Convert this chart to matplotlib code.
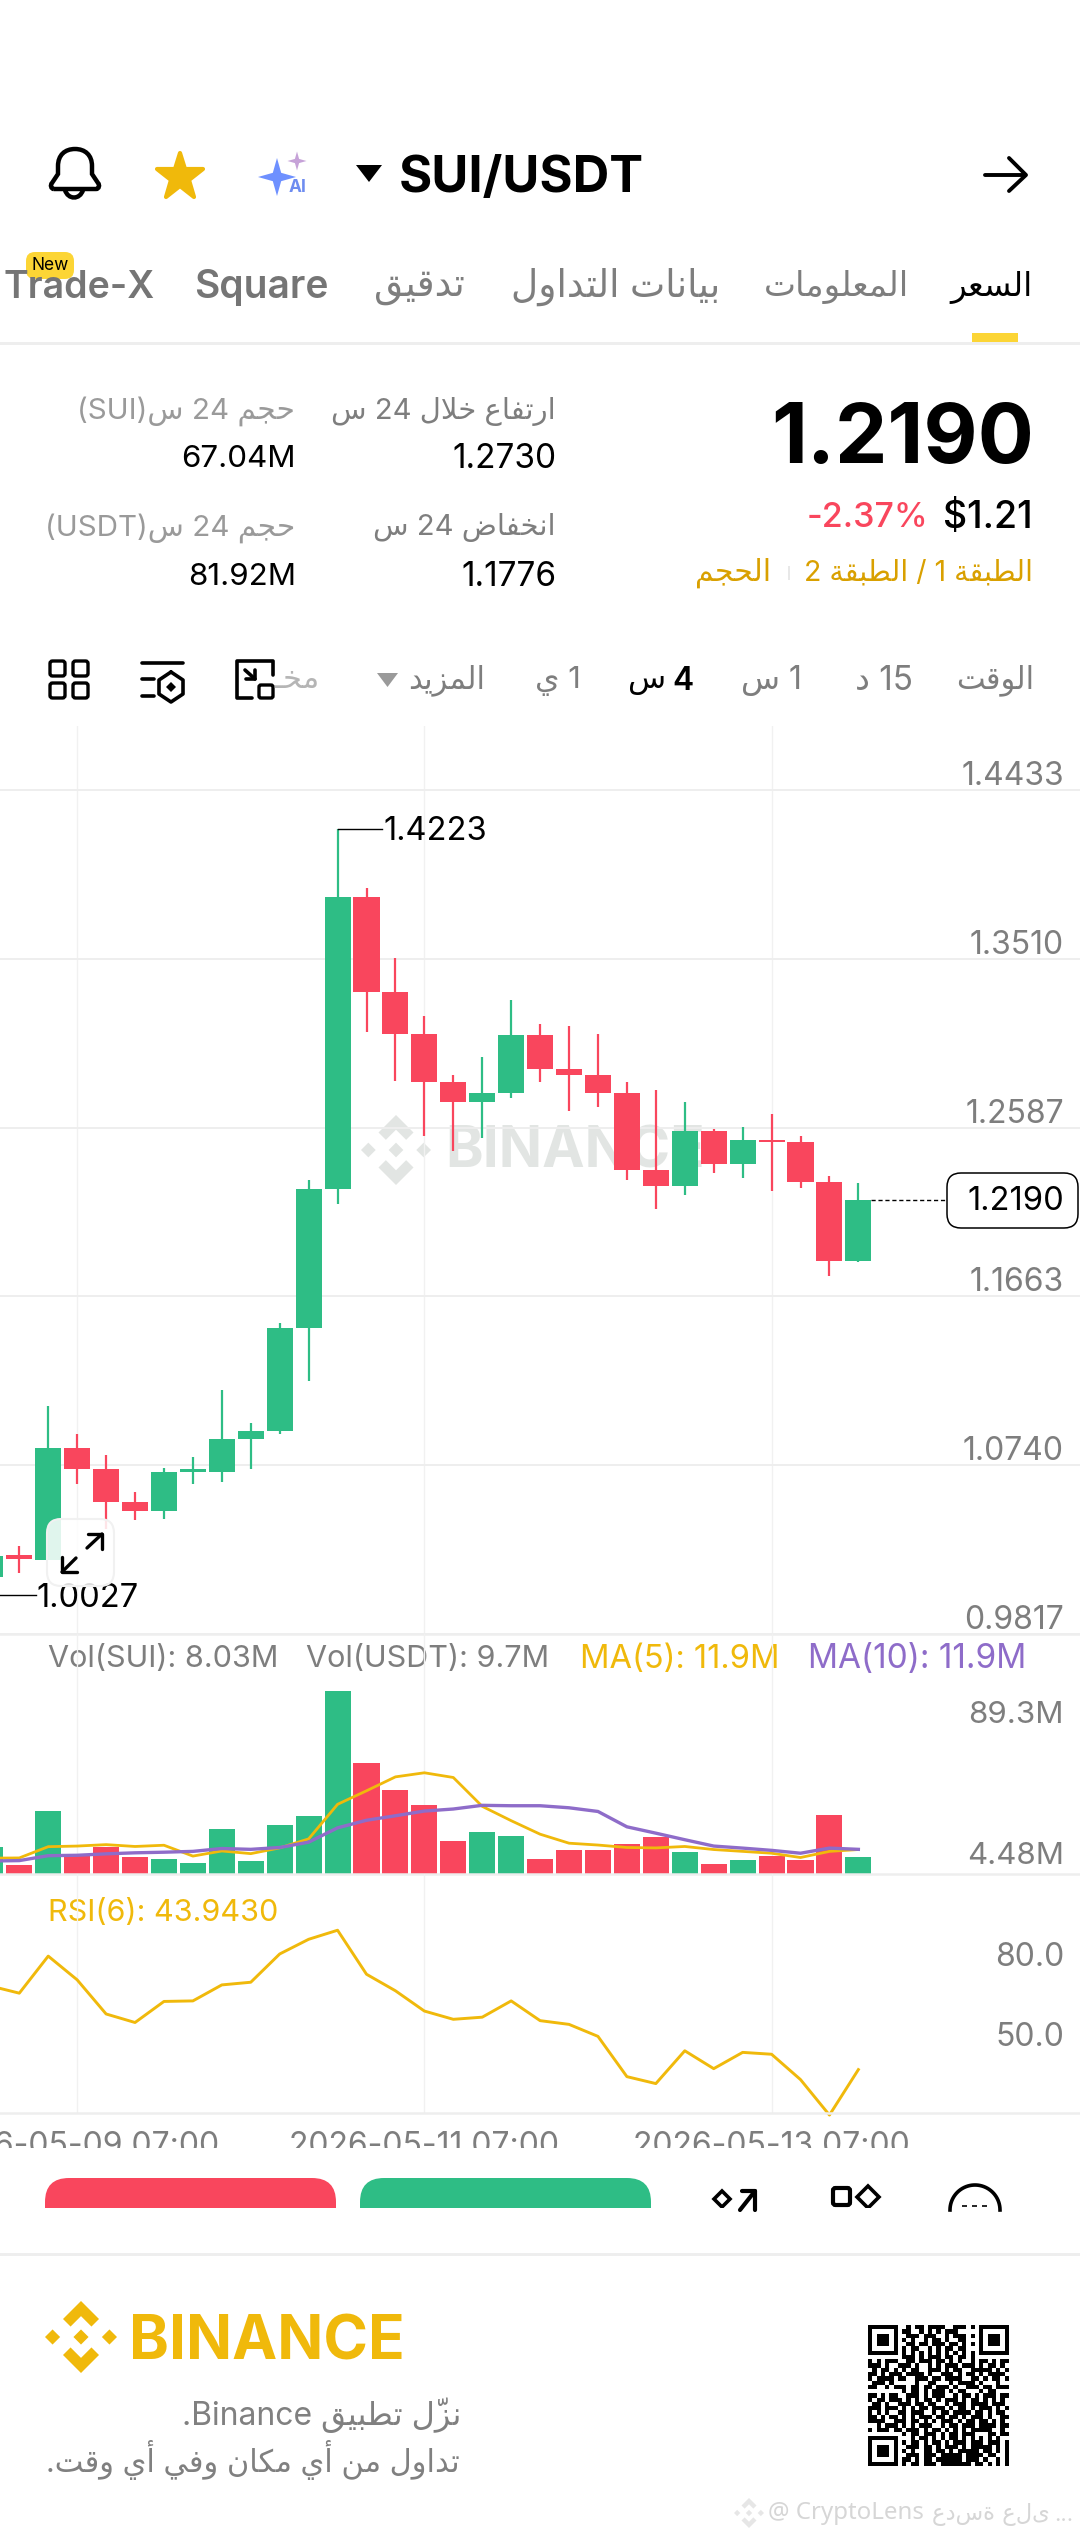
"""SUI/USDT 4h candles, volume and RSI in the Binance app share card."""

import re

import matplotlib as mpl

mpl.use("Agg")
import matplotlib.pyplot as plt
import numpy as np
from matplotlib.patches import FancyBboxPatch, PathPatch, Polygon, Rectangle
from matplotlib.path import Path

W, H = 1080, 2538
FONT = ["Inter", "DejaVu Sans"]
plt.rcParams["font.family"] = FONT

GREEN = "#2EBD85"
RED = "#F9465D"
GOLD = "#F0B90B"
PURPLE = "#8E6CC9"
GRID = "#F1F1F1"

# one row per 4h candle, the first one is cut by the left edge
OPEN = [1.0125, 1.0247, 1.0221, 1.0832, 1.0719, 1.0536, 1.0491, 1.0700, 1.0703, 1.0883, 1.0925,
        1.1493, 1.2251, 1.3847, 1.3327, 1.3102, 1.2839, 1.2730, 1.2775, 1.3096, 1.2906, 1.2877,
        1.2775, 1.2354, 1.2270, 1.2566, 1.2386, 1.2521, 1.2511, 1.2290, 1.1859]
CLOSE = [1.0244, 1.0228, 1.0832, 1.0719, 1.0536, 1.0491, 1.0700, 1.0716, 1.0883, 1.0925, 1.1493,
         1.2251, 1.3847, 1.3327, 1.3102, 1.2839, 1.2730, 1.2775, 1.3096, 1.2909, 1.2877, 1.2775,
         1.2354, 1.2270, 1.2566, 1.2386, 1.2521, 1.2508, 1.2290, 1.1859, 1.2190]
HIGH = [1.0250, 1.0298, 1.1063, 1.0909, 1.0793, 1.0594, 1.0726, 1.0783, 1.1149, 1.0973, 1.1519,
        1.2299, 1.4223, 1.3899, 1.3516, 1.3198, 1.2874, 1.2974, 1.3285, 1.3157, 1.3141, 1.3102,
        1.2839, 1.2794, 1.2730, 1.2579, 1.2591, 1.2659, 1.2543, 1.2325, 1.2283]
LOW = [1.0027, 1.0147, 1.0221, 1.0639, 1.0388, 1.0437, 1.0446, 1.0636, 1.0645, 1.0716, 1.0912,
       1.1201, 1.2168, 1.3112, 1.2845, 1.2540, 1.2460, 1.2530, 1.2752, 1.2839, 1.2678, 1.2701,
       1.2299, 1.2139, 1.2219, 1.2338, 1.2312, 1.2241, 1.2257, 1.1776, 1.1850]
VOLUME = [12.9, 4.5, 30.5, 8.9, 13.1, 8.4, 7.2, 5.1, 22.1, 6.3, 23.9, 28.3, 89.3, 54.2, 41.0, 33.8,
          16.2, 20.4, 18.5, 7.3, 11.9, 11.5, 14.6, 17.8, 10.6, 4.88, 6.8, 8.7, 7.0, 28.8, 8.03]
MA5 = [7.7, 7.8, 13.3, 13.6, 14.3, 13.4, 14.0, 8.7, 11.2, 9.9, 12.7, 17.1, 34.0, 40.6, 47.4, 49.4,
       47.1, 33.0, 26.0, 19.4, 15.0, 14.1, 12.9, 12.7, 13.4, 11.9, 11.0, 10.1, 8.0, 11.0, 11.9]
MA10 = [6.3, 6.5, 8.9, 9.1, 9.8, 10.3, 10.6, 11.0, 12.4, 12.0, 12.9, 15.5, 22.5, 26.2, 28.4, 30.7,
        31.7, 33.5, 33.3, 33.3, 32.3, 30.5, 23.0, 19.9, 16.7, 13.6, 12.6, 11.5, 10.1, 12.6, 12.0]
RSI = [75.3, 72.6, 86.5, 77.6, 64.8, 61.6, 69.5, 69.7, 75.7, 76.7, 87.3, 92.8, 96.2, 79.7, 73.5, 65.9,
       62.8, 63.6, 69.7, 62.3, 60.9, 56.4, 41.3, 38.7, 51.0, 44.3, 50.4, 49.7, 40.2, 26.9, 43.943]

PRICE_TICKS = [1.4433, 1.3510, 1.2587, 1.1663, 1.0740, 0.9817]
DATE_TICKS = [3, 15, 27]
DATE_LABELS = ["2026-05-09 07:00", "2026-05-11 07:00", "2026-05-13 07:00"]
LAST_PRICE = 1.2190

QR_ROWS = [
    "#######..#.##.####..###.#.#######",
    "#.....#.##..#.#.#.###.....#.....#",
    "#.###.#..###.###..#.###.#.#.###.#",
    "#.###.#.#.#..#.##.#..##...#.###.#",
    "#.###.#..##.##.###.##.#.#.#.###.#",
    "#.....#.#.##..#.#.##.##...#.....#",
    "#######.#.#.#.#.#.#.#.#.#.#######",
    "........###.#.###.##.##.#........",
    "#.#.###..##.###.##.#.#..#.##.#.##",
    "###.#..###.#..#.#.###.###.#.##.#.",
    ".#.##.#.#.##..###.#.##..#####.#.#",
    "##.#.###.####.#..###.#.##.#.####.",
    "#.####.##..###.##.####..##.#.##.#",
    ".###.#.....#..##...#.####.#...#..",
    "##..#.###.##.##.###.#..###.##.###",
    "........#.##.#.###.#.##...#.##...",
    "##.#.##..###.#.###..#.##.#.###.##",
    "#.##.###.#.#.##.#.###.#.##.#.#.#.",
    ".##.#..###.##.##..#.###.####.###.",
    "###.###.#.#.##.###.#.##.#.###.#.#",
    "#.#.#..##.###..#.##.####.##.#.##.",
    "##.#.##.#.#.###.##.##.#.###.#..##",
    "####..###.##.#.#.###.#.##.##.#.#.",
    "..#.###.#.#.###..#.##.###.####.##",
    "#.###.##.###.#.##.#.#.#.#####..#.",
    "........#.##.###.#.##.###...##.##",
    "#######...#.##.#.#.##.#.#.#.#.#..",
    "#.....#.#.##.#.##.#.###.###.###.#",
    "#.###.#..###.##.#.###.#.#####.#.#",
    "#.###.#.#.#..##.##.#.#####.##.#.#",
    "#.###.#..###.###.#####.####.##..#",
    "#.....#.##.#.##.######.###.#..#.#",
    "#######.#.##.###.#######.##.#.#.#",
]

DUAL = {"ب": 0xFE8F, "ت": 0xFE95, "ج": 0xFE9D, "ح": 0xFEA1, "خ": 0xFEA5, "س": 0xFEB1, "ض": 0xFEBD,
        "ط": 0xFEC1, "ع": 0xFEC9, "ف": 0xFED1, "ق": 0xFED5, "ك": 0xFED9, "ل": 0xFEDD, "م": 0xFEE1,
        "ن": 0xFEE5, "ي": 0xFEF1}
RIGHT = {"ا": 0xFE8D, "أ": 0xFE83, "ة": 0xFE93, "د": 0xFEA9, "ر": 0xFEAD, "ز": 0xFEAF, "و": 0xFEED,
         "\uFEFB": 0xFEFB}
SHADDA = "\u0651"
KASHIDA = "\u0640"


def ar(text):
    # matplotlib has no shaping or bidi, so turn the string into visual order
    text = text.replace("لا", "\uFEFB")
    out = []
    for i, c in enumerate(text):
        if c not in DUAL and c not in RIGHT:
            out.append(c)
            continue
        j = i - 1
        while j >= 0 and text[j] == SHADDA:
            j -= 1
        k = i + 1
        while k < len(text) and text[k] == SHADDA:
            k += 1
        joins_prev = j >= 0 and text[j] in DUAL
        joins_next = k < len(text) and (text[k] in DUAL or text[k] in RIGHT or text[k] == KASHIDA)
        if c in DUAL:
            form = {(0, 0): 0, (1, 0): 1, (0, 1): 2, (1, 1): 3}[(int(joins_prev), int(joins_next))]
            out.append(chr(DUAL[c] + form))
        else:
            out.append(chr(RIGHT[c] + int(joins_prev)))
    tokens = re.findall(r"[A-Za-z0-9]+|." + SHADDA + "?", "".join(out))
    swap = {"(": ")", ")": "("}
    # the mark goes in front of its letter, it has no advance of its own
    tokens = [t[::-1] if t.endswith(SHADDA) else t for t in tokens]
    return "".join(swap.get(t, t) for t in reversed(tokens))


def px_axes(top, bottom, zorder=1):
    ax = fig.add_axes([0, 1 - bottom / H, 1, (bottom - top) / H], zorder=zorder)
    ax.patch.set_alpha(0)
    ax.set_xlim(0.333, 37.66)
    ax.set_xticks(DATE_TICKS)
    ax.grid(axis="x", color=GRID, linewidth=1.0)
    ax.set_axisbelow(True)
    ax.tick_params(length=0, labelleft=False, labelbottom=False)
    for s in ax.spines.values():
        s.set_visible(False)
    ax.spines["bottom"].set_visible(True)
    ax.spines["bottom"].set_color("#EEEEEE")
    ax.spines["bottom"].set_linewidth(1.8)
    return ax


def tx(ax, x, y, s, size, color="black", ha="right", weight="normal", **kw):
    return ax.text(x, y, s, fontsize=size, color=color, ha=ha, va="center", fontweight=weight,
                   parse_math=False, **kw)


def stroke(ax, pts, lw=2.6, color="black", closed=False, **kw):
    xs, ys = zip(*(list(pts) + [pts[0]] if closed else pts))
    ax.plot(xs, ys, color=color, lw=lw, solid_capstyle="round", solid_joinstyle="round", **kw)


def rbox(ax, x0, y0, x1, y1, rad, fc="none", ec="black", lw=2.4, **kw):
    ax.add_patch(FancyBboxPatch((x0, y0), x1 - x0, y1 - y0, boxstyle=f"round,pad=0,rounding_size={rad}",
                                fc=fc, ec=ec, lw=lw, **kw))


def bnb_logo(ax, cx, cy, r, color):
    top = [(0, 1), (.5, .5), (.29, .29), (0, .58), (-.29, .29), (-.5, .5)]
    shapes = [top, [(a, -b) for a, b in top]]
    for ox in (-.79, 0, .79):
        shapes.append([(ox, .21), (ox + .21, 0), (ox, -.21), (ox - .21, 0)])
    for shape in shapes:
        ax.add_patch(Polygon([(cx + a * r, cy - b * r) for a, b in shape], fc=color, ec="none"))


def sparkle(ax, cx, cy, h, color):
    pts = [(0, -h), (.22 * h, -.22 * h), (h, 0), (.22 * h, .22 * h), (0, h), (-.22 * h, .22 * h), (-h, 0),
           (-.22 * h, -.22 * h)]
    ax.add_patch(Polygon([(cx + a, cy + b) for a, b in pts], fc=color, ec="none"))


fig = plt.figure(figsize=(W / 100, H / 100), dpi=100, facecolor="white")

# page chrome in pixel coordinates, y pointing down
ui = fig.add_axes([0, 0, 1, 1], zorder=0)
ui.axis("off")

bell = Path([(54, 189), (96, 189), (99, 189), (100, 185), (98, 183), (92, 174), (92, 166), (92, 155), (85, 149),
             (75, 149), (65, 149), (58, 155), (58, 166), (58, 174), (52, 183), (50, 185), (51, 189), (54, 189)],
            [1, 2, 4, 4, 4, 2, 2, 4, 4, 4, 4, 4, 4, 2, 2, 4, 4, 4])
ui.add_patch(PathPatch(bell, fc="none", ec="black", lw=3.2))
ui.add_patch(PathPatch(Path([(65, 190), (68, 200), (80, 200), (83, 190)], [1, 4, 4, 4]), fc="none", ec="black", lw=3.2))
ui.plot(180, 176.5, marker=mpl.markers.MarkerStyle("*", joinstyle="round"), ms=35, color=GOLD, mew=3)
sparkle(ui, 277, 177, 19, "#6E90FF")
sparkle(ui, 297, 161, 9.5, "#C6A2D8")
tx(ui, 298, 188, "AI", 12.5, "#6E8CF0", ha="center", weight="bold")
ui.add_patch(Polygon([(356, 165), (382, 165), (369, 182)], fc="black", ec="none"))
tx(ui, 399, 178, "SUI/USDT", 36.5, ha="left", weight="bold")
stroke(ui, [(985, 175), (1025, 175)], lw=2.8)
stroke(ui, [(1009, 158), (1026, 175), (1009, 191)], lw=2.8)

tx(ui, 1033, 287, ar("السعر"), 23.5)
tx(ui, 909, 287, ar("المعلومات"), 24.5, "#7E7E7E")
tx(ui, 720, 287, ar("بيانات التداول"), 27, "#7E7E7E")
tx(ui, 465, 287, ar("تدقيق"), 27, "#7E7E7E")
tx(ui, 328, 288, "Square", 28, "#757575", weight="semibold")
tx(ui, 155, 288, "Trade-X", 27, "#757575", weight="semibold")
rbox(ui, 26, 252, 74, 279, 9, fc="#FCD535", ec="none", lw=0)
tx(ui, 50, 266, "New", 12.5, ha="center")
ui.add_patch(Rectangle((972, 333), 46, 9, fc="#FCD535", ec="none"))
ui.add_patch(Rectangle((0, 342), W, 2.5, fc="#EEEEEE", ec="none"))

tx(ui, 1034, 441, "1.2190", 60, weight="bold")
tx(ui, 1033, 518, "$1.21", 27, weight="medium")
tx(ui, 928, 518, "-2.37%", 24.5, RED, weight="medium")
tx(ui, 1033, 573, ar("الطبقة 1 / الطبقة 2"), 20.6, "#D9A000")
tx(ui, 771, 573, ar("الحجم"), 21.5, "#D9A000")
ui.add_patch(Rectangle((788, 566), 1.5, 14, fc="#E8E8E8", ec="none"))

tx(ui, 556, 411, ar("ارتفاع خلال 24 س"), 21, "#7E7E7E")
tx(ui, 557, 459, "1.2730", 24)
tx(ui, 556, 528, ar("انخفاض 24 س"), 21, "#7E7E7E")
tx(ui, 557, 577, "1.1776", 24)
tx(ui, 295, 411, ar("حجم 24 س(SUI)"), 21.3, "#9A9A9A")
tx(ui, 296, 459, "67.04M", 22.6)
tx(ui, 295, 528, ar("حجم 24 س(USDT)"), 21.3, "#9A9A9A")
tx(ui, 296, 577, "81.92M", 22.6)

tx(ui, 1034, 680, ar("الوقت"), 22, "#7E7E7E")
tx(ui, 913, 681, ar("15 د"), 24, "#7E7E7E")
tx(ui, 802, 681, ar("1 س"), 23, "#7E7E7E")
# the selected interval, only the digit comes out heavy in the app
tx(ui, 693, 681, "4", 23, weight="semibold")
tx(ui, 666, 681, ar("س"), 22.5)
tx(ui, 581, 681, ar("1 ي"), 22.5, "#7E7E7E")
tx(ui, 485, 680, ar("المزيد"), 22, "#7E7E7E")
ui.add_patch(Polygon([(377, 673), (398, 673), (387.5, 687)], fc="#9A9A9A", ec="none"))
tx(ui, 319, 680, ar("مخ" + KASHIDA), 22, "#B5B5B5")

for x0 in (50, 73):
    for y0 in (661, 683):
        rbox(ui, x0, y0, x0 + 15, y0 + 15, 2.5)
stroke(ui, [(142, 663), (183, 663)])
stroke(ui, [(142, 679), (154, 679)])
stroke(ui, [(142, 696), (154, 696)])
stroke(ui, [(171, 672), (183, 680), (183, 694), (171, 702), (159, 694), (159, 680)], closed=True)
ui.add_patch(Polygon([(171, 682), (176, 687), (171, 692), (166, 687)], fc="black", ec="none"))
stroke(ui, [(252, 698), (237, 698), (237, 661), (273, 661), (273, 675)])
rbox(ui, 259, 685, 273, 698, 2)
stroke(ui, [(245, 670), (255, 679)])
stroke(ui, [(255, 670), (255, 679), (246, 679)])

# the faint mark sits under the candles
bnb_logo(ui, 396, 1150, 35, "#E2E5E3")
tx(ui, 445, 1152, "BINANCE", 41, "#E2E5E3", ha="left", weight="bold")

tx(ui, 48, 1659, "Vol(SUI): 8.03M", 22, "#7E7E7E", ha="left")
tx(ui, 306, 1659, "Vol(USDT): 9.7M", 22, "#7E7E7E", ha="left")
tx(ui, 580, 1659, "MA(5): 11.9M", 23.5, GOLD, ha="left")
tx(ui, 808, 1659, "MA(10): 11.9M", 24, PURPLE, ha="left")
tx(ui, 1064, 1715, "89.3M", 22.5, "#7E7E7E")
tx(ui, 1064, 1856, "4.48M", 22.5, "#7E7E7E")
tx(ui, 48, 1913, "RSI(6): 43.9430", 22, GOLD, ha="left")
tx(ui, 1064, 1958, "80.0", 23, "#7E7E7E")
tx(ui, 1064, 2038, "50.0", 23, "#7E7E7E")

# footer
ui.add_patch(Rectangle((0, 2253), W, 3, fc="#EEEEEE", ec="none"))
bnb_logo(ui, 81, 2337, 36, GOLD)
tx(ui, 129, 2343, "BINANCE", 43.5, GOLD, ha="left", weight="bold")
tx(ui, 461, 2415, ar("نزّل تطبيق Binance."), 23, "#808080")
tx(ui, 460, 2460, ar("تداول من أي مكان وفي أي وقت."), 22, "#808080")
qr = np.array([[ch == "#" for ch in row.ljust(33, ".")[:33]] for row in QR_ROWS])
ui.imshow(qr, cmap="binary", extent=(868, 1009, 2466, 2325), aspect="auto", interpolation="nearest")
bnb_logo(ui, 749, 2513, 15, "#E6E6E6")
tx(ui, 768, 2513, "@ CryptoLens", 17.3, "#D6D6D6", ha="left", family=["Noto Sans", "DejaVu Sans"])
tx(ui, 932, 2515, "عدسة على", 16.3, "#D6D6D6", ha="left", family=["DejaVu Sans"])
tx(ui, 1073, 2515, "...", 16, "#D6D6D6")
ui.set_xlim(0, W)
ui.set_ylim(H, 0)

x = np.arange(len(CLOSE))
up = np.array(CLOSE) >= np.array(OPEN)
colors = [GREEN if u else RED for u in up]

# candles
ax = px_axes(726, 1633.7)
ax.set_ylim(0.9817, 0.9817 + (1633.7 - 726) * 0.00054738)
ax.set_yticks(PRICE_TICKS)
ax.grid(axis="y", color="#EEEEEE", linewidth=1.4)
ax.vlines(x, LOW, HIGH, colors=colors, linewidth=1.6)
body = np.abs(np.array(CLOSE) - np.array(OPEN))
ax.bar(x, np.maximum(body, 0.0012), bottom=np.minimum(OPEN, CLOSE), width=0.9, color=colors)
for p in PRICE_TICKS:
    ax.annotate(f"{p:.4f}", (1, p), xycoords=("axes fraction", "data"), xytext=(-11.5, 9.8),
                textcoords="offset points", ha="right", va="center", fontsize=23, color="#7E7E7E")
ax.plot([12, 13.55], [HIGH[12], HIGH[12]], color="black", lw=1)
ax.annotate(f"{HIGH[12]:.4f}", (13.6, HIGH[12]), xytext=(0, -2), textcoords="offset points", ha="left",
            va="center", fontsize=23.5)
ax.plot([0, 1.57], [LOW[0], LOW[0]], color="black", lw=1)
ax.annotate(f"{LOW[0]:.4f}", (1.6, LOW[0]), xytext=(0, -2), textcoords="offset points", ha="left",
            va="center", fontsize=23.5)
ax.plot([30.45, 33.1], [LAST_PRICE, LAST_PRICE], color="black", lw=1, linestyle=(0, (3, 2)))

# volume with moving averages
vol = px_axes(1633.7, 1873.9)
vol.set_ylim(0, (1873.9 - 1633.7) / 2.047)
vol.bar(x, VOLUME, width=0.9, color=colors)
vol.plot(x, MA5, color=GOLD, lw=2.0)
vol.plot(x, MA10, color=PURPLE, lw=2.4)

# RSI
rsi = px_axes(1873.9, 2113)
rsi.set_ylim(43.943 - (2113 - 2069.6) / 2.667, 43.943 + (2069.6 - 1873.9) / 2.667)
rsi.plot(x, RSI, color=GOLD, lw=2.1, clip_on=False)
rsi.tick_params(labelbottom=True, labelsize=23, labelcolor="#7E7E7E", pad=13)
rsi.set_xticklabels(DATE_LABELS)

# things on top of the plots
top = fig.add_axes([0, 0, 1, 1], zorder=5)
top.axis("off")
top.patch.set_alpha(0)
rbox(top, 47, 1519, 114, 1586, 14, fc=(1, 1, 1, 0.86), ec="#F1F1F1", lw=1.5)
stroke(top, [(62, 1572), (76, 1558)], lw=2.4)
stroke(top, [(87, 1548), (102, 1534)], lw=2.4)
stroke(top, [(88, 1534), (102, 1534), (102, 1549)], lw=2.4)
stroke(top, [(62, 1557), (62, 1572), (77, 1572)], lw=2.4)
rbox(top, 947, 1173, 1078, 1228, 14, fc="white", ec="black", lw=1.1)
tx(top, 1064, 1202, f"{LAST_PRICE:.4f}", 23.5)

# date labels and the buttons are cut off in the screenshot
top.add_patch(Rectangle((0, 2148), W, 30, fc="white", ec="none"))
rbox(top, 45, 2178, 336, 2240, 24, fc=RED, ec="none", lw=0)
rbox(top, 360, 2178, 651, 2240, 24, fc=GREEN, ec="none", lw=0)
top.add_patch(Polygon([(722, 2191), (730, 2199), (722, 2207), (714, 2199)], fc="none", ec="black", lw=2.6))
stroke(top, [(740, 2210), (755, 2191)], lw=3)
stroke(top, [(742, 2191), (755, 2191), (755, 2210)], lw=3)
rbox(top, 833, 2188, 850, 2205, 2.5, lw=3)
top.add_patch(Polygon([(868, 2186), (879, 2197), (868, 2208), (857, 2197)], fc="none", ec="black", lw=2.6))
theta = np.linspace(0, np.pi, 40)
top.plot(975 + 25 * np.cos(theta), 2210 - 25 * np.sin(theta), color="black", lw=2.6)
top.add_patch(Rectangle((0, 2208), W, 44, fc="white", ec="none"))
top.plot([962, 988], [2206, 2206], color="black", lw=1.2, linestyle=(0, (3, 3)))
top.set_xlim(0, W)
top.set_ylim(H, 0)

fig.savefig("out.png", dpi=100, facecolor="white")
plt.close(fig)
